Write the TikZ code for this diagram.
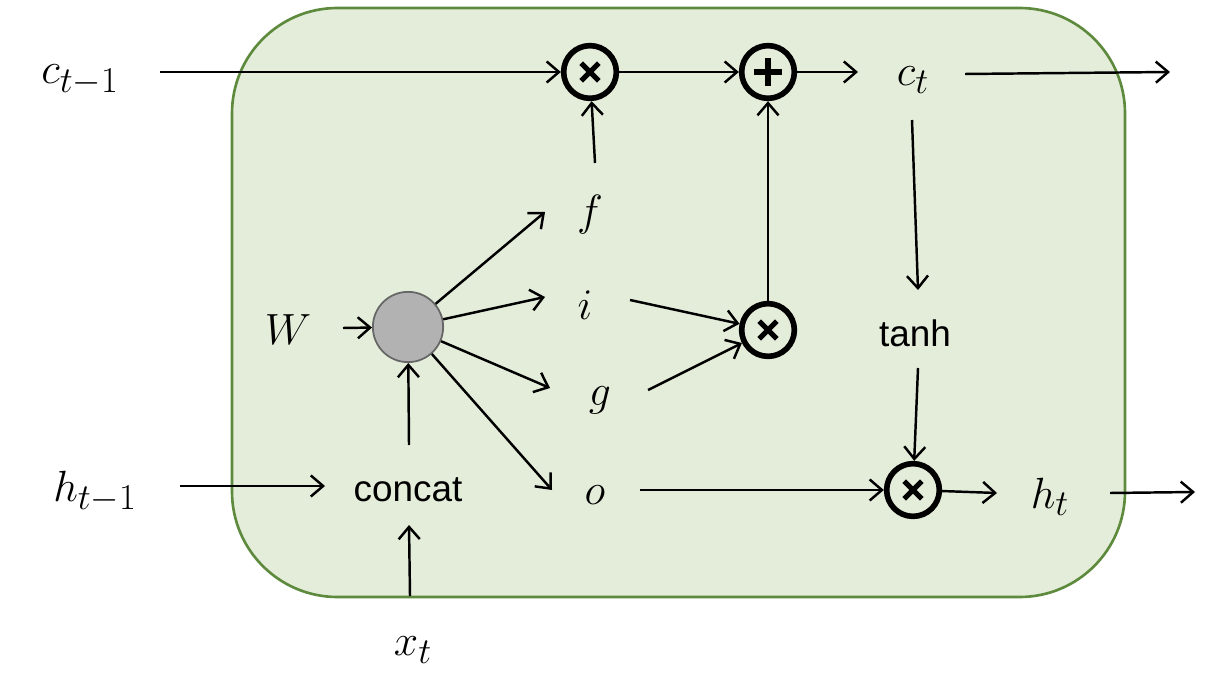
\documentclass[tikz,border=0pt]{standalone}
\usepackage{fontspec}
\setsansfont{Liberation Sans}
\usetikzlibrary{arrows.meta}
\definecolor{cellfill}{HTML}{E4EDDA}
\definecolor{cellline}{HTML}{5E8A3E}
\newcommand{\lstmvar}[1]{\fontsize{30}{36}\selectfont$#1$}
\newcommand{\lstmop}[1]{\fontsize{21}{25}\selectfont\sffamily #1}

\begin{document}
\begin{tikzpicture}[x=0.02cm,y=-0.02cm,
  arr/.style={-{Straight Barb[length=7pt,width=12pt]},line width=1.4pt},
  op/.style={circle,draw,line width=3.2pt,fill=cellfill,minimum size=30pt,inner sep=0pt},
  times/.style={op,path picture={\draw[line width=3pt]
     ([shift={(-5pt,-5pt)}]path picture bounding box.center) -- ++(10pt,10pt)
     ([shift={(-5pt,5pt)}]path picture bounding box.center) -- ++(10pt,-10pt);}},
  plus/.style={op,path picture={\draw[line width=3pt]
     ([shift={(-8pt,0pt)}]path picture bounding box.center) -- ++(16pt,0)
     ([shift={(0pt,-8pt)}]path picture bounding box.center) -- ++(0,16pt);}}]
  \useasboundingbox (0,0) rectangle (1226,688);
  \draw[cellline,fill=cellfill,line width=1.5pt,rounded corners=60pt] (232,8) rectangle (1125,597);

  % operators
  \node[times] (mf) at (590,72) {};
  \node[plus] (add) at (768,72) {};
  \node[times] (mi) at (768,330) {};
  \node[times] (mo) at (913,490) {};
  \node[circle,draw=black!60,fill=black!30,line width=1pt,minimum size=40pt,inner sep=0pt] (w) at (408,327) {};

  % labels
  \node (cp) at (80,80) {\lstmvar{c_{t-1}}};
  \node (ct) at (913,80) {\lstmvar{c_t}};
  \node (hp) at (95,492) {\lstmvar{h_{t-1}}};
  \node (ht) at (1050,497) {\lstmvar{h_t}};
  \node (xt) at (413,650) {\lstmvar{x_t}};
  \node (W) at (288,330) {\lstmvar{W}};
  \node (f) at (590,215) {\lstmvar{f}};
  \node (i) at (585,305) {\lstmvar{i}};
  \node (g) at (600,400) {\lstmvar{g}};
  \node (o) at (595,495) {\lstmvar{o}};
  \node (cc) at (408,490) {\lstmop{concat}};
  \node (th) at (915,333) {\lstmop{tanh}};
  \coordinate (cend) at (1170,72);
  \coordinate (hend) at (1195,492);
  \coordinate (xs) at (410,596);

  % connections
  \draw[arr] (160,72) -- (mf);
  \draw[arr] (mf) -- (add);
  \draw[arr] (add) -- (858,72);
  \draw[arr] (965,74) -- (cend);
  \draw[arr] (595,163) -- (mf);
  \draw[arr] (mi) -- (add);
  \draw[arr] (630,300) -- (mi);
  \draw[arr] (648,390) -- (mi);
  \draw[arr] (912,120) -- (918,290);
  \draw[arr] (918,368) -- (mo);
  \draw[arr] (640,490) -- (mo);
  \draw[arr] (mo) -- (997,493);
  \draw[arr] (1110,493) -- (hend);
  \draw[arr] (343,328) -- (w);
  \draw[arr] (409,445) -- (w);
  \draw[arr] (180,486) -- (325,486);
  \draw[arr] (xs) -- (409,525);
  \draw[arr] (w) -- (545,212);
  \draw[arr] (w) -- (545,297);
  \draw[arr] (w) -- (550,388);
  \draw[arr] (w) -- (552,490);
\end{tikzpicture}
\end{document}
